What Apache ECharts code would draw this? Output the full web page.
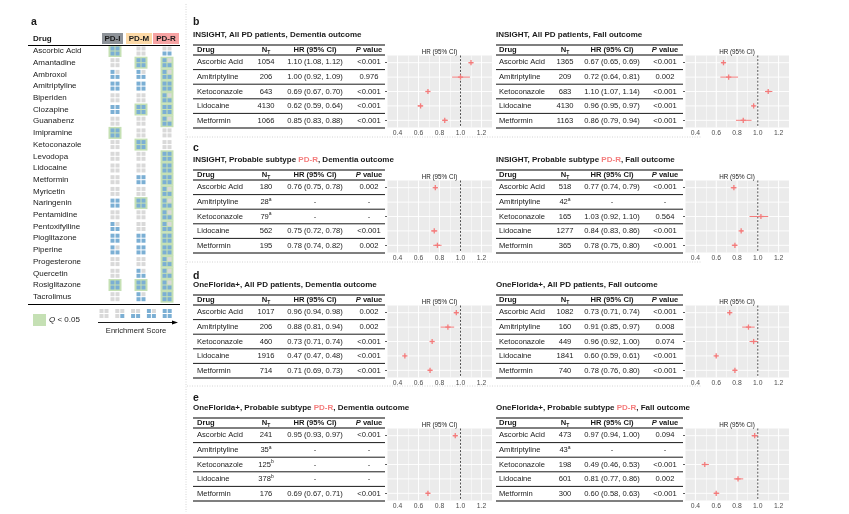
<!DOCTYPE html>
<html><head><meta charset="utf-8">
<script src="https://cdn.jsdelivr.net/npm/echarts@6/dist/echarts.min.js"></script>
<style>html,body{margin:0;padding:0;background:#fff}#c{width:849px;height:514px}</style>
</head><body><div id="c"></div>
<script>
const FONT = '"Liberation Sans", Arial, Helvetica, sans-serif';

// ---------- Panel a data ----------
const drugsA = ['Ascorbic Acid','Amantadine','Ambroxol','Amitriptyline','Biperiden','Clozapine','Guanabenz','Imipramine','Ketoconazole','Levodopa','Lidocaine','Metformin','Myricetin','Naringenin','Pentamidine','Pentoxifylline','Pioglitazone','Piperine','Progesterone','Quercetin','Rosiglitazone','Tacrolimus'];
const subtypes = ['PD-I','PD-M','PD-R'];
const levelPDI = [4,0,3,4,0,4,0,4,0,0,0,0,0,4,0,3,4,3,0,0,4,0];
const levelPDM = [0,4,3,4,0,4,0,0,4,0,0,4,0,4,0,0,4,4,0,3,4,3];
const levelPDR = [2,3,3,4,3,4,3,0,0,4,4,4,3,3,3,3,4,4,3,3,3,4];
const sigPDI = [1,0,0,0,0,0,0,1,0,0,0,0,0,0,0,0,0,0,0,0,1,0];
const sigPDM = [0,1,0,0,0,1,0,0,1,0,0,0,0,1,0,0,0,0,0,0,1,0];
const sigPDR = [0,1,1,1,1,1,1,0,0,1,1,1,1,1,1,1,1,1,1,1,1,1];
const legendLevels = [0,1,2,3,4];

// ---------- Forest data: [N, footnote, HR, lower, upper, P] ----------
const forestDrugs = ['Ascorbic Acid','Amitriptyline','Ketoconazole','Lidocaine','Metformin'];
const insightAllDementia = [
  ['1054','',1.10,1.08,1.12,'<0.001'],
  ['206','',1.00,0.92,1.09,'0.976'],
  ['643','',0.69,0.67,0.70,'<0.001'],
  ['4130','',0.62,0.59,0.64,'<0.001'],
  ['1066','',0.85,0.83,0.88,'<0.001']];
const insightAllFall = [
  ['1365','',0.67,0.65,0.69,'<0.001'],
  ['209','',0.72,0.64,0.81,'0.002'],
  ['683','',1.10,1.07,1.14,'<0.001'],
  ['4130','',0.96,0.95,0.97,'<0.001'],
  ['1163','',0.86,0.79,0.94,'<0.001']];
const insightPDRDementia = [
  ['180','',0.76,0.75,0.78,'0.002'],
  ['28','a',null,null,null,'-'],
  ['79','a',null,null,null,'-'],
  ['562','',0.75,0.72,0.78,'<0.001'],
  ['195','',0.78,0.74,0.82,'0.002']];
const insightPDRFall = [
  ['518','',0.77,0.74,0.79,'<0.001'],
  ['42','a',null,null,null,'-'],
  ['165','',1.03,0.92,1.10,'0.564'],
  ['1277','',0.84,0.83,0.86,'<0.001'],
  ['365','',0.78,0.75,0.80,'<0.001']];
const ofAllDementia = [
  ['1017','',0.96,0.94,0.98,'0.002'],
  ['206','',0.88,0.81,0.94,'0.002'],
  ['460','',0.73,0.71,0.74,'<0.001'],
  ['1916','',0.47,0.47,0.48,'<0.001'],
  ['714','',0.71,0.69,0.73,'<0.001']];
const ofAllFall = [
  ['1082','',0.73,0.71,0.74,'<0.001'],
  ['160','',0.91,0.85,0.97,'0.008'],
  ['449','',0.96,0.92,1.00,'0.074'],
  ['1841','',0.60,0.59,0.61,'<0.001'],
  ['740','',0.78,0.76,0.80,'<0.001']];
const ofPDRDementia = [
  ['241','',0.95,0.93,0.97,'<0.001'],
  ['35','a',null,null,null,'-'],
  ['125','b',null,null,null,'-'],
  ['378','b',null,null,null,'-'],
  ['176','',0.69,0.67,0.71,'<0.001']];
const ofPDRFall = [
  ['473','',0.97,0.94,1.00,'0.094'],
  ['43','a',null,null,null,'-'],
  ['198','',0.49,0.46,0.53,'<0.001'],
  ['601','',0.81,0.77,0.86,'0.002'],
  ['300','',0.60,0.58,0.63,'<0.001']];
const xTickLabels = [0.4,0.6,0.8,1.0,1.2];
const refHR = 1.0;

// ---------- layout ----------
const PINK = '#f47c7c';
const TS = 7.6; // table font size
const panels = [
  {rows: insightAllDementia, title: 'INSIGHT, All PD patients, Dementia outcome', col: 0, ty: 35},
  {rows: insightAllFall, title: 'INSIGHT, All PD patients, Fall outcome', col: 1, ty: 35},
  {rows: insightPDRDementia, title: 'INSIGHT, Probable subtype {r|PD-R}, Dementia outcome', col: 0, ty: 160},
  {rows: insightPDRFall, title: 'INSIGHT, Probable subtype {r|PD-R}, Fall outcome', col: 1, ty: 160},
  {rows: ofAllDementia, title: 'OneFlorida+, All PD patients, Dementia outcome', col: 0, ty: 285},
  {rows: ofAllFall, title: 'OneFlorida+, All PD patients, Fall outcome', col: 1, ty: 285},
  {rows: ofPDRDementia, title: 'OneFlorida+, Probable subtype {r|PD-R}, Dementia outcome', col: 0, ty: 408},
  {rows: ofPDRFall, title: 'OneFlorida+, Probable subtype {r|PD-R}, Fall outcome', col: 1, ty: 408}
];
const cols = [
  {x0: 193, x1: 385, drugX: 197, nX: 266, hrX: 315, pX: 369, gl: 387, gw: 105},
  {x0: 496, x1: 683, drugX: 499, nX: 565, hrX: 612, pX: 665, gl: 685, gw: 104}
];

const graphics = [];
function txt(x, y, t, o) {
  o = o || {};
  graphics.push({type: 'text', x: x, y: y, silent: true, z: 10,
    style: {text: t, fontFamily: FONT, fontSize: o.size || TS, fontWeight: o.bold ? 'bold' : 'normal',
      fontStyle: o.italic ? 'italic' : 'normal',
      fill: o.color || '#1a1a1a', align: o.align || 'left', verticalAlign: 'middle', rich: o.rich}});
}
function hline(x1, x2, y, w, color, dash) {
  graphics.push({type: 'line', silent: true, z: 10, shape: {x1: x1, y1: y, x2: x2, y2: y},
    style: {stroke: color || '#000', lineWidth: w || 1, lineDash: dash || null}});
}
const richBase = {
  r: {fill: PINK, fontFamily: FONT, fontSize: 8, fontWeight: 'bold'},
  sub: {fontFamily: FONT, fontSize: 5, fontWeight: 'bold', verticalAlign: 'bottom', fill: '#1a1a1a'},
  sup: {fontFamily: FONT, fontSize: 5, verticalAlign: 'top', fill: '#1a1a1a'},
  h: {fontFamily: FONT, fontSize: TS, fontWeight: 'bold', fill: '#1a1a1a', lineHeight: 10},
  hi: {fontFamily: FONT, fontSize: TS, fontWeight: 'bold', fontStyle: 'italic', fill: '#1a1a1a', lineHeight: 10},
  n: {fontFamily: FONT, fontSize: TS, fill: '#1a1a1a', lineHeight: 10},
  qi: {fontFamily: FONT, fontSize: 8, fontStyle: 'italic', fill: '#1a1a1a'},
  q: {fontFamily: FONT, fontSize: 8, fill: '#1a1a1a'}
};

// panel letters
txt(31, 22, 'a', {bold: true, size: 10.5});
txt(193, 22, 'b', {bold: true, size: 10.5});
txt(193, 148, 'c', {bold: true, size: 10.5});
txt(193, 276, 'd', {bold: true, size: 10.5});
txt(193, 398, 'e', {bold: true, size: 10.5});

// separators
graphics.push({type: 'line', silent: true, shape: {x1: 186, y1: 4, x2: 186, y2: 512},
  style: {stroke: '#c9c9c9', lineWidth: 0.8, lineDash: [1, 1.5]}});
[137, 262, 386].forEach(y => hline(187, 702, y, 0.8, '#c9c9c9', [1, 1.5]));

// panel a header
txt(33, 39, 'Drug', {bold: true, size: 8});
const hdrBoxes = [[102, 123, '#8e9399'], [126, 152, '#fcd9a6'], [153, 179, '#f7a3a3']];
hdrBoxes.forEach((b, k) => {
  graphics.push({type: 'rect', silent: true, z: 9, shape: {x: b[0], y: 33, width: b[1] - b[0], height: 11}, style: {fill: b[2]}});
  txt((b[0] + b[1]) / 2, 38.7, subtypes[k], {bold: true, align: 'center', size: 8});
});
hline(28, 180, 45.5, 1.2);
hline(28, 180, 304.5, 1.2);
// panel a legend
graphics.push({type: 'rect', silent: true, shape: {x: 33, y: 314, width: 13, height: 12}, style: {fill: '#c5e0b4'}});
txt(49, 320, '{qi|Q}{q| < 0.05}', {rich: richBase});
hline(98, 174, 322.5, 0.9, '#000');
graphics.push({type: 'polygon', silent: true, shape: {points: [[178, 322.5], [172, 320.5], [172, 324.5]]}, style: {fill: '#000'}});
txt(136, 330.5, 'Enrichment Score', {align: 'center', size: 7.6});

function cellShapes(cx, cy, lvl, sig) {
  const ch = [];
  if (sig) ch.push({type: 'rect', shape: {x: cx - 6.5, y: cy - 6, width: 13, height: 12}, style: {fill: '#c5e0b4'}});
  // fill order: bottom-right, bottom-left, top-left, top-right
  const pos = [[0.5, 0.5], [-4.5, 0.5], [-4.5, -4.5], [0.5, -4.5]];
  pos.forEach((p, k) => {
    ch.push({type: 'rect', shape: {x: cx + p[0], y: cy + p[1], width: 4, height: 4},
      style: {fill: k < lvl ? '#7bafd4' : '#d9d9d9'}});
  });
  return ch;
}
legendLevels.forEach((lv, k) => {
  graphics.push({type: 'group', silent: true, children: cellShapes(104 + 15.8 * k, 313.5, lv, 0)});
});

// forest tables
panels.forEach(p => {
  const c = cols[p.col];
  const ty = p.ty;
  txt(c.x0, ty, p.title, {bold: true, size: 8, rich: richBase});
  hline(c.x0, c.x1, ty + 10, 1.1);
  hline(c.x0, c.x1, ty + 20, 1);
  const hy = ty + 15.3;
  txt(c.drugX, hy, 'Drug', {bold: true});
  txt(c.nX, hy, '{h|N}{sub|T}', {align: 'center', rich: richBase});
  txt(c.hrX, hy, 'HR (95% CI)', {bold: true, align: 'center'});
  txt(c.pX, hy, '{hi|P}{h| value}', {align: 'center', rich: richBase});
  p.rows.forEach((r, i) => {
    const y = ty + 20 + 7.3 + 14.6 * i;
    txt(c.drugX, y, forestDrugs[i]);
    txt(c.nX, y, r[1] ? '{n|' + r[0] + '}{sup|' + r[1] + '}' : r[0], {align: 'center', rich: richBase});
    const hr = r[2] == null ? '-' : r[2].toFixed(2) + ' (' + r[3].toFixed(2) + ', ' + r[4].toFixed(2) + ')';
    txt(c.hrX, y, hr, {align: 'center'});
    txt(c.pX, y, r[5], {align: 'center'});
    hline(c.x0, c.x1, ty + 20 + 14.6 * (i + 1), i === 4 ? 1.1 : 0.9);
  });
  txt(c.gl + c.gw / 2, ty + 17, 'HR (95% CI)', {size: 6.3, align: 'center', color: '#222'});
});

// ---------- option ----------
const grids = [{left: 102, width: 78, top: 45.15, height: 257.4, show: false}];
const xAxes = [{type: 'category', gridIndex: 0, data: subtypes, show: false}];
const yAxes = [{type: 'category', gridIndex: 0, data: drugsA, inverse: true,
  axisLine: {show: false}, axisTick: {show: false}, splitLine: {show: false},
  axisLabel: {align: 'left', margin: 69, fontFamily: FONT, fontSize: 8, color: '#1a1a1a'}}];
const levels = [levelPDI, levelPDM, levelPDR];
const sigs = [sigPDI, sigPDM, sigPDR];
const cellData = [];
subtypes.forEach((s, k) => drugsA.forEach((d, i) => cellData.push([k, i, levels[k][i], sigs[k][i]])));
const series = [{
  type: 'custom', xAxisIndex: 0, yAxisIndex: 0, data: cellData, silent: true,
  encode: {x: 0, y: 1},
  renderItem: (params, api) => {
    const pt = api.coord([api.value(0), api.value(1)]);
    return {type: 'group', children: cellShapes(pt[0], pt[1], api.value(2), api.value(3))};
  }
}];

panels.forEach((p, k) => {
  const c = cols[p.col];
  const gi = k + 1;
  grids.push({left: c.gl, width: c.gw, top: p.ty + 20.5, height: 72, show: true,
    backgroundColor: '#ebebeb', borderWidth: 0});
  xAxes.push({type: 'value', gridIndex: gi, min: 0.3, max: 1.3, interval: 0.1,
    axisLine: {show: false}, axisTick: {show: false},
    splitLine: {show: true, lineStyle: {color: '#ffffff', width: 0.5}},
    axisLabel: {fontFamily: FONT, fontSize: 6.8, color: '#4d4d4d', margin: 2,
      formatter: v => {
        const t = Math.round(v * 10);
        return (t % 2 === 0 && t >= 4 && t <= 12) ? (t / 10).toFixed(1) : '';
      }}});
  yAxes.push({type: 'category', gridIndex: gi, data: forestDrugs, inverse: true,
    axisLine: {show: false}, axisLabel: {show: false}, splitLine: {show: false},
    axisTick: {show: true, alignWithLabel: true, length: 2, lineStyle: {color: '#333', width: 0.8}}});
  // white horizontal grid lines at each drug row
  series.push({
    type: 'custom', xAxisIndex: gi, yAxisIndex: gi, silent: true, z: 1,
    data: forestDrugs.map((d, i) => [0.3, i]), encode: {x: 0, y: 1},
    renderItem: (params, api) => {
      const y = api.coord([0.3, api.value(1)])[1];
      const cs = params.coordSys;
      return {type: 'line', shape: {x1: cs.x, y1: y, x2: cs.x + cs.width, y2: y},
        style: {stroke: '#ffffff', lineWidth: 0.9}};
    }
  });
  // white major vertical grid lines
  series.push({
    type: 'custom', xAxisIndex: gi, yAxisIndex: gi, silent: true, z: 1,
    data: xTickLabels.map(v => [v, 0]), encode: {x: 0, y: 1},
    renderItem: (params, api) => {
      const x = api.coord([api.value(0), 0])[0];
      const cs = params.coordSys;
      return {type: 'line', shape: {x1: x, y1: cs.y, x2: x, y2: cs.y + cs.height},
        style: {stroke: '#ffffff', lineWidth: 0.9}};
    }
  });
  // reference dashed line at HR = 1
  series.push({
    type: 'custom', xAxisIndex: gi, yAxisIndex: gi, silent: true, z: 2,
    data: [[refHR, 0]], encode: {x: 0, y: 1},
    renderItem: (params, api) => {
      const x = api.coord([api.value(0), 0])[0];
      const cs = params.coordSys;
      return {type: 'line', shape: {x1: x, y1: cs.y, x2: x, y2: cs.y + cs.height},
        style: {stroke: '#222', lineWidth: 0.8, lineDash: [2, 1.6]}};
    }
  });
  const fd = p.rows.map((r, i) => r[2] == null ? null : [r[2], r[3], r[4], i]).filter(Boolean);
  series.push({
    type: 'custom', xAxisIndex: gi, yAxisIndex: gi, silent: true, z: 3,
    data: fd, encode: {x: 0, y: 3},
    renderItem: (params, api) => {
      const idx = api.value(3);
      const c0 = api.coord([api.value(0), idx]);
      const xl = api.coord([api.value(1), idx])[0];
      const xh = api.coord([api.value(2), idx])[0];
      const y = c0[1], x = c0[0];
      return {type: 'group', children: [
        {type: 'line', shape: {x1: xl, y1: y, x2: xh, y2: y}, style: {stroke: PINK, lineWidth: 1}},
        {type: 'line', shape: {x1: x - 2.6, y1: y, x2: x + 2.6, y2: y}, style: {stroke: PINK, lineWidth: 1.3}},
        {type: 'line', shape: {x1: x, y1: y - 2.6, x2: x, y2: y + 2.6}, style: {stroke: PINK, lineWidth: 1.3}}
      ]};
    }
  });
});

const chart = echarts.init(document.getElementById('c'), null, {renderer: 'canvas'});
chart.setOption({
  animation: false,
  backgroundColor: '#ffffff',
  grid: grids, xAxis: xAxes, yAxis: yAxes, series: series,
  graphic: graphics
});
</script>
</body></html>
